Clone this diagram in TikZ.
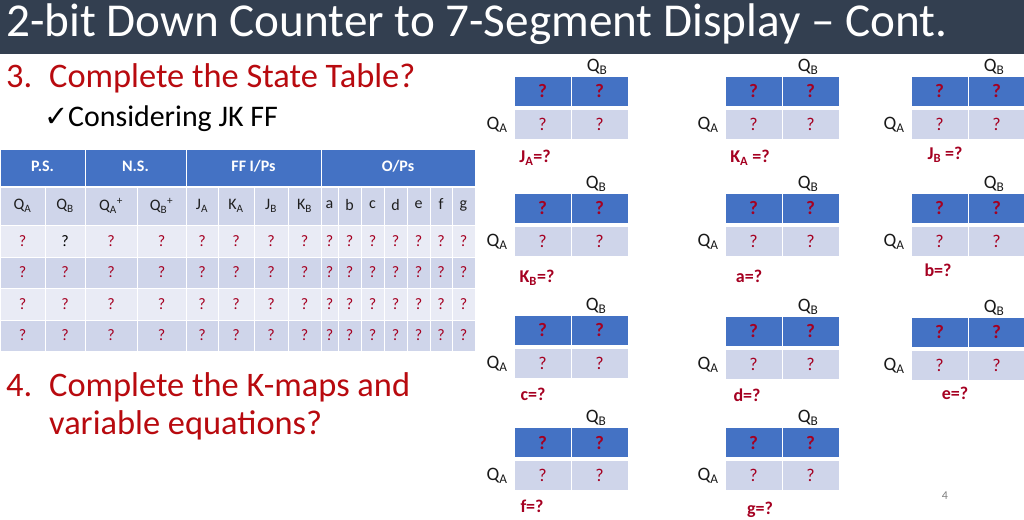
\documentclass[tikz,border=0pt]{standalone}
\usepackage{fontspec}
\setmainfont{Carlito}
\newfontfamily\symfont{DejaVu Sans}
\definecolor{hdr}{HTML}{4472C4}
\definecolor{band}{HTML}{CFD5EA}
\definecolor{lite}{HTML}{E9EBF5}
\definecolor{ttl}{HTML}{333F50}
\definecolor{qred}{HTML}{A50021}
\definecolor{headred}{HTML}{B80A0F}
\newcommand{\tcell}[7]{\node[cellbox,fill=#6,minimum width={#3-#2-1},minimum height={#5-#4-1}] (#1) at ({(#2+#3)/2},{(#4+#5)/2}) {#7};}
\newcommand{\lowt}[1]{\textsubscript{#1}}
\newcommand{\upt}[1]{\raisebox{3pt}{#1}}
\newcommand{\kmap}[7]{%
  \node[kcell,fill=hdr,text=qred,font=\fontsize{19}{21}\selectfont\bfseries] (#1a) at (#2+28.5,#3+14.5) {?};
  \node[kcell,fill=hdr,text=qred,font=\fontsize{19}{21}\selectfont\bfseries] (#1b) at (#2+85.5,#3+14.5) {?};
  \node[kcell,fill=band,text=qred] (#1c) at (#2+28.5,#3+47) {?};
  \node[kcell,fill=band,text=qred] (#1d) at (#2+85.5,#3+47) {?};
  \node[varlab] (#1qb) at (#4,#3-10) {Q\lowt{B}};
  \node[varlab] (#1qa) at (#2-17,#3+48) {Q\lowt{A}};
  \node[eqlab] (#1eq) at (#5,#6) {#7};
}
\tikzset{
  cellbox/.style={inner sep=0pt,outer sep=0pt,font=\fontsize{16}{18}\selectfont,text=black!88},
  kcell/.style={inner sep=0pt,outer sep=0pt,minimum width=56,minimum height=29,font=\fontsize{18}{20}\selectfont},
  varlab/.style={inner sep=0pt,font=\fontsize{19}{21}\selectfont,text=black!90},
  eqlab/.style={inner sep=0pt,font=\fontsize{18}{20}\selectfont\bfseries,text=qred},
}
\begin{document}
\begin{tikzpicture}[x=1pt,y=-1pt]
\useasboundingbox (0,0) rectangle (1024,519);
% title
\fill[ttl] (0,0) rectangle (1024,54);
\node[anchor=base west,inner sep=0pt,text=white,font=\fontsize{47.2}{50}\selectfont] (title) at (6,37) {2-bit Down Counter to 7-Segment Display – Cont.};
\node[anchor=base west,inner sep=0pt,text=headred,font=\fontsize{34.4}{37}\selectfont] (h3n) at (6,87) {3.};
\node[anchor=base west,inner sep=0pt,text=headred,font=\fontsize{34.4}{37}\selectfont] (h3) at (49,87) {Complete the State Table?};
\node[anchor=base west,inner sep=0pt,font=\fontsize{29}{31}\selectfont\symfont] (chk) at (44,126) {✓};
\node[anchor=base west,inner sep=0pt,font=\fontsize{29.9}{32}\selectfont] (h3s) at (68,126) {Considering JK FF};
\node[anchor=base west,inner sep=0pt,text=headred,font=\fontsize{34.4}{37}\selectfont] (h4n) at (6,396) {4.};
\node[anchor=base west,inner sep=0pt,text=headred,font=\fontsize{34.4}{37}\selectfont] (h4a) at (49,396) {Complete the K-maps and};
\node[anchor=base west,inner sep=0pt,text=headred,font=\fontsize{34.4}{37}\selectfont] (h4b) at (49,434) {variable equations?};
% table header
\tcell{hA}{0}{85}{149}{186}{hdr}{\upt{\textcolor{white}{\bfseries P.S.}}}
\tcell{hB}{85}{186}{149}{186}{hdr}{\upt{\textcolor{white}{\bfseries N.S.}}}
\tcell{hC}{186}{321}{149}{186}{hdr}{\upt{\textcolor{white}{\bfseries FF I/Ps}}}
\tcell{hD}{321}{475}{149}{186}{hdr}{\upt{\textcolor{white}{\bfseries O/Ps}}}
% column names
\tcell{c1}{0}{45}{187}{225}{band}{\upt{Q\lowt{A}}}
\tcell{c2}{45}{85}{187}{225}{band}{\upt{Q\lowt{B}}}
\tcell{c3}{85}{137}{187}{225}{band}{\upt{Q\lowt{A}\textsuperscript{+}}}
\tcell{c4}{137}{186}{187}{225}{band}{\upt{Q\lowt{B}\textsuperscript{+}}}
\tcell{c5}{186}{218}{187}{225}{band}{\upt{J\lowt{A}}}
\tcell{c6}{218}{254}{187}{225}{band}{\upt{K\lowt{A}}}
\tcell{c7}{254}{288}{187}{225}{band}{\upt{J\lowt{B}}}
\tcell{c8}{288}{321}{187}{225}{band}{\upt{K\lowt{B}}}
\tcell{c9}{321}{338}{187}{225}{band}{\upt{a}}
\tcell{c10}{338}{361}{187}{225}{band}{\upt{b}}
\tcell{c11}{361}{384}{187}{225}{band}{\upt{c}}
\tcell{c12}{384}{407}{187}{225}{band}{\upt{d}}
\tcell{c13}{407}{430}{187}{225}{band}{\upt{e}}
\tcell{c14}{430}{452}{187}{225}{band}{\upt{f}}
\tcell{c15}{452}{475}{187}{225}{band}{\upt{g}}
% body rows
\foreach \r/\ya/\yb/\fc in {1/225/257/lite,2/257/288/band,3/288/320/lite,4/320/351/band}{
  \foreach \c/\xa/\xb in {1/0/45,2/45/85,3/85/137,4/137/186,5/186/218,6/218/254,7/254/288,8/288/321,9/321/338,10/338/361,11/361/384,12/384/407,13/407/430,14/430/452,15/452/475}{
    \tcell{r\r c\c}{\xa}{\xb}{\ya}{\yb}{\fc}{\textcolor{qred}{?}}
  }
}
\tcell{r1c2}{45}{85}{225}{257}{lite}{\textcolor{black}{?}}
% K-maps
\kmap{ja}{514}{77}{597}{535}{158}{J\lowt{A}=?}
\kmap{ka}{725}{77}{808}{750}{158}{K\lowt{A} =?}
\kmap{jb}{911}{77}{994}{945}{155}{J\lowt{B} =?}
\kmap{kb}{514}{194}{596}{537}{278}{K\lowt{B}=?}
\kmap{a}{725}{194}{808}{749}{276}{a=?}
\kmap{b}{911}{194}{994}{938}{270}{b=?}
\kmap{c}{514}{316}{596}{533}{394}{c=?}
\kmap{d}{725}{317}{808}{747}{395}{d=?}
\kmap{e}{911}{318}{994}{955}{393}{e=?}
\kmap{f}{514}{428}{596}{532}{506}{f=?}
\kmap{g}{725}{428}{808}{760}{510}{g=?}
\node[inner sep=0pt,text=black!50,font=\fontsize{12}{14}\selectfont] (pg) at (945,496) {4};
\end{tikzpicture}
\end{document}
